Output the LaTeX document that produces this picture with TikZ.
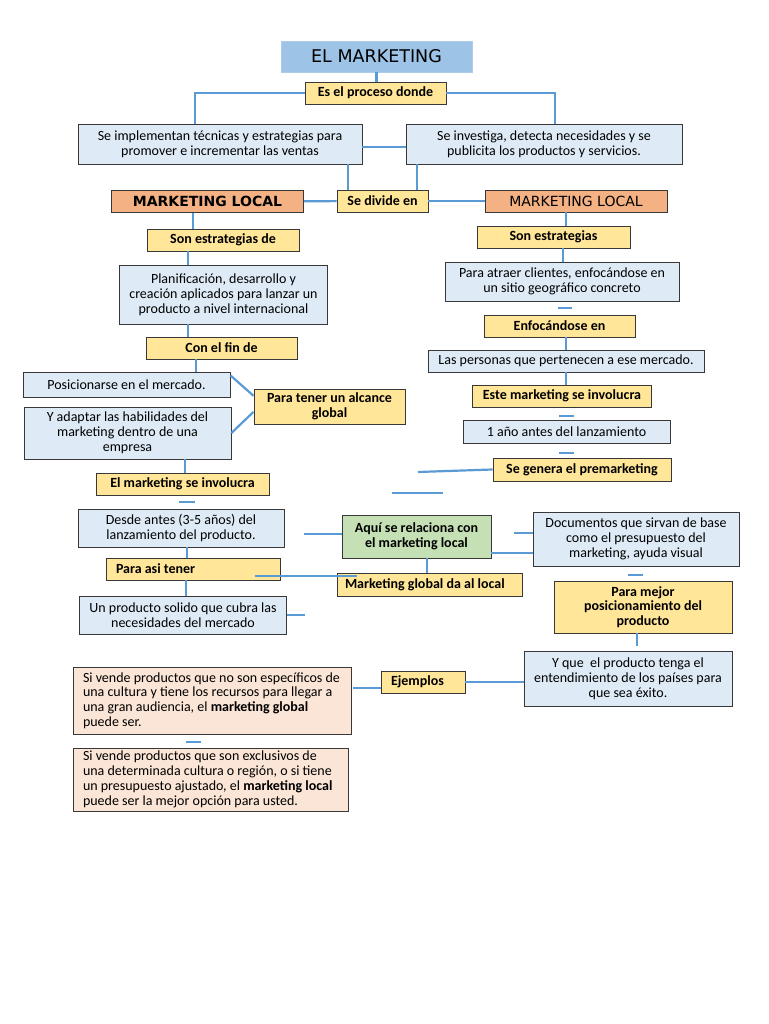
\documentclass[tikz,border=0pt]{standalone}
\usepackage{fontspec}
\setmainfont{Carlito}
\newfontfamily\anchafont{DejaVu Sans}

\definecolor{celeste}{HTML}{DEEBF7}
\definecolor{amarillo}{HTML}{FFE699}
\definecolor{naranja}{HTML}{F4B183}
\definecolor{verde}{HTML}{C5E0B4}
\definecolor{salmon}{HTML}{FBE5D6}
\definecolor{cielo}{HTML}{9DC3E6}
\definecolor{linea}{HTML}{5B9BD5}

\begin{document}
\begin{tikzpicture}[x=1pt,y=-1pt,
    caja/.style ={draw=black!78, line width=0.9pt, inner xsep=10pt, inner ysep=2pt,
                  align=center, font=\fontsize{14}{14.8}\selectfont},
    idea/.style ={caja, fill=celeste},
    etiqueta/.style ={caja, fill=amarillo, font=\fontsize{14}{14.8}\selectfont\bfseries},
    rama/.style ={caja, fill=naranja, font=\anchafont\fontsize{14}{16}\selectfont},
    ejemplo/.style ={caja, fill=salmon, align=flush left},
    cabecera/.style ={fill=cielo, draw=cielo!85!white, line width=0.9pt,
                  font=\anchafont\fontsize{17.5}{20}\selectfont},
    enlace/.style ={draw=linea, line width=2.2pt}]
   \useasboundingbox[fill=white] (0,0) rectangle (768,1024);

   % cabecera
   \node[cabecera, minimum width=191pt, minimum height=31pt] (titulo) at (376.5,56.5) {EL MARKETING};
   \node[etiqueta, minimum width=141pt, minimum height=22pt] (proceso) at (375.5,93) {Es el proceso donde};
   \node[idea, minimum width=284pt, minimum height=40pt] (implementan) at (220,144) {Se implementan técnicas y estrategias para\\promover e incrementar las ventas};
   \node[idea, minimum width=276pt, minimum height=40pt] (investiga) at (544,144) {Se investiga, detecta necesidades y se\\publicita los productos y servicios.};
   \node[rama, minimum width=192pt, minimum height=22pt, font=\anchafont\fontsize{14}{16}\selectfont\bfseries] (localA) at (207.5,201.5) {MARKETING LOCAL};
   \node[etiqueta, minimum width=91pt, minimum height=22pt] (dividir) at (382.5,201) {Se divide en};
   \node[rama, minimum width=182pt, minimum height=22pt] (localB) at (576,201) {MARKETING LOCAL};

   % columna izquierda
   \node[etiqueta, minimum width=152pt, minimum height=22pt] (estrategiasA) at (223,240) {Son estrategias de};
   \node[idea, minimum width=207pt, minimum height=59pt] (planificacion) at (223.5,294.5) {Planificación, desarrollo y\\creación aplicados para lanzar un\\producto a nivel internacional};
   \node[etiqueta, minimum width=151pt, minimum height=22pt] (finde) at (221.5,348) {Con el fin de};
   \node[idea, minimum width=207pt, minimum height=25pt] (posicionarse) at (126.5,384.5) {Posicionarse en el mercado.};
   \node[idea, minimum width=207pt, minimum height=52pt] (adaptar) at (127.5,433) {Y adaptar las habilidades del\\marketing dentro de una\\empresa};
   \node[etiqueta, minimum width=151pt, minimum height=35pt] (alcance) at (329.5,406.5) {Para tener un alcance\\global};
   \node[etiqueta, minimum width=173pt, minimum height=22pt] (involucraA) at (182.5,484) {El marketing se involucra};
   \node[idea, minimum width=206pt, minimum height=38pt] (desde) at (181,528) {Desde antes (3-5 años) del\\lanzamiento del producto.};
   \node[etiqueta, text width=154pt, align=flush left, minimum height=22pt] (asitener) at (193,569) {Para asi tener};
   \node[idea, minimum width=206pt, minimum height=38pt] (solido) at (183,615) {Un producto solido que cubra las\\necesidades del mercado};

   % centro
   \node[etiqueta, fill=verde, minimum width=149pt, minimum height=43pt] (relaciona) at (416.5,536.5) {Aquí se relaciona con\\el marketing local};
   \node[etiqueta, inner xsep=8pt, text width=169pt, align=flush left, minimum height=23pt] (globallocal) at (429.5,584.5) {Marketing global da al local};

   % columna derecha
   \node[etiqueta, minimum width=153pt, minimum height=22pt] (estrategiasB) at (553.5,237) {Son estrategias};
   \node[idea, minimum width=234pt, minimum height=39pt] (atraer) at (562,281.5) {Para atraer clientes, enfocándose en\\un sitio geográfico concreto};
   \node[etiqueta, minimum width=151pt, minimum height=22pt] (enfocandose) at (559.5,326) {Enfocándose en};
   \node[idea, minimum width=276pt, minimum height=22pt] (personas) at (566,361) {Las personas que pertenecen a ese mercado.};
   \node[etiqueta, minimum width=178pt, minimum height=22pt] (involucraB) at (562,396) {Este marketing se involucra};
   \node[idea, minimum width=207pt, minimum height=23pt] (anio) at (566.5,431.5) {1 año antes del lanzamiento};
   \node[etiqueta, minimum width=178pt, minimum height=23pt] (premarketing) at (582,469.5) {Se genera el premarketing};
   \node[idea, minimum width=206pt, minimum height=54pt] (documentos) at (636,539) {Documentos que sirvan de base\\como el presupuesto del\\marketing, ayuda visual};
   \node[etiqueta, minimum width=178pt, minimum height=52pt] (mejor) at (643,607) {Para mejor\\posicionamiento del\\producto};
   \node[idea, minimum width=208pt, minimum height=55pt] (entendimiento) at (628,678.5) {Y que\ \ el producto tenga el\\entendimiento de los países para\\que sea éxito.};

   % ejemplos
   \node[etiqueta, text width=64pt, align=flush left, minimum height=22pt] (ejemplos) at (423,682) {Ejemplos};
   \node[ejemplo, text width=258pt, minimum height=67pt] (ejglobal) at (212,700.5) {Si vende productos que no son específicos de\\una cultura y tiene los recursos para llegar a\\una gran audiencia, el \textbf{marketing global}\\puede ser.};
   \node[ejemplo, text width=255pt, minimum height=63pt] (ejlocal) at (210.5,779.5) {Si vende productos que son exclusivos de\\una determinada cultura o región, o si tiene\\un presupuesto ajustado, el \textbf{marketing local}\\puede ser la mejor opción para usted.};

   % extremos sueltos
   \coordinate (sueltoA) at (305,615);
   \coordinate (sueltoB) at (304,534);
   \coordinate (sueltoC) at (418,472);
   \coordinate (sueltoD) at (637,646);
   \coordinate (sueltoE) at (353,688);
   \coordinate (cruceA) at (255,576);
   \coordinate (cruceB) at (357,576);

   \draw[enlace] (titulo.south) -- (titulo.south |- proceso.north);
   \draw[enlace] (proceso.west) -| (195,0 |- implementan.north);
   \draw[enlace] (proceso.east) -| (555,0 |- investiga.north);
   \draw[enlace] (implementan.east |- 0,147) -- (investiga.west |- 0,147);
   \draw[enlace] (348,0 |- implementan.south) -- (348,0 |- dividir.north);
   \draw[enlace] (417,0 |- investiga.south) -- (417,0 |- dividir.north);
   \draw[enlace] (localA) -- (dividir);
   \draw[enlace] (dividir) -- (localB);
   \draw[enlace] (193,0 |- localA.south) -- (193,0 |- estrategiasA.north);
   \draw[enlace] (188,0 |- estrategiasA.south) -- (188,0 |- planificacion.north);
   \draw[enlace] (188,0 |- planificacion.south) -- (188,0 |- finde.north);
   \draw[enlace] (196,0 |- finde.south) -- (196,0 |- posicionarse.north);
   \draw[enlace] (posicionarse.5) -- (alcance.172);
   \draw[enlace] (adaptar.east) -- (alcance.184);
   \draw[enlace] (185,0 |- adaptar.south) -- (185,0 |- involucraA.north);
   \draw[enlace] (187,0 |- desde.south) -- (187,0 |- asitener.north);
   \draw[enlace] (186,0 |- asitener.south) -- (186,0 |- solido.north);
   \draw[enlace] (solido.east) -- (sueltoA);
   \draw[enlace] (cruceA) -- (cruceB);
   \draw[enlace] (sueltoB) -- (sueltoB -| relaciona.west);
   \draw[enlace] (427,0 |- relaciona.south) -- (427,0 |- globallocal.north);
   \draw[enlace] (relaciona.east |- 0,553) -- (documentos.west |- 0,553);
   \draw[enlace] (566,0 |- localB.south) -- (566,0 |- estrategiasB.north);
   \draw[enlace] (563,0 |- estrategiasB.south) -- (563,0 |- atraer.north);
   \draw[enlace] (566,0 |- enfocandose.south) -- (566,0 |- personas.north);
   \draw[enlace] (566,0 |- personas.south) -- (566,0 |- involucraB.north);
   \draw[enlace] (sueltoC) -- (premarketing.west);
   \draw[enlace] (637,0 |- mejor.south) -- (sueltoD);
   \draw[enlace] (ejemplos.east) -- (ejemplos.east -| entendimiento.west);
   \draw[enlace] (sueltoE) -- (sueltoE -| ejemplos.west);
   % trazos cortos
   \foreach \xa/\xb/\yy in {179/195/502, 558/572/308, 559/574/416, 559/574/453,
                            392/443/493, 514/533/533, 628/643/575, 186/201/742}
     \draw[enlace] (\xa,\yy) -- (\xb,\yy);
 \end{tikzpicture}
\end{document}
